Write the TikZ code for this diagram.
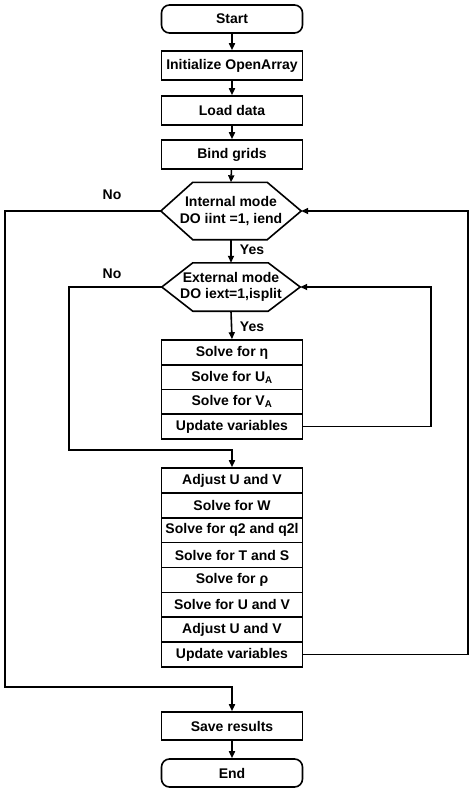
\documentclass[tikz,border=0pt]{standalone}
\usepackage{fontspec}
\setmainfont{Liberation Sans}
\usetikzlibrary{arrows.meta}
\begin{document}
\begin{tikzpicture}[x=1pt,y=-1pt,
  every node/.style={font=\fontsize{14}{16.5}\selectfont\bfseries, inner sep=0pt},
  line/.style={line width=1.6pt},
  arr/.style={line width=1.6pt,-{Triangle[length=7pt,width=6pt]}},
  term/.style={draw, line width=1.6pt, rounded corners=8pt, minimum width=141pt, minimum height=28pt},
  proc/.style={draw, line width=1.6pt, minimum width=141pt, minimum height=29pt},
  row/.style={draw, line width=1.6pt, minimum width=141pt, minimum height=24.8pt},
  hexbox/.style={minimum width=140pt, align=center}
]
\useasboundingbox (0,0) rectangle (474,793);
\fill[white] (0,0) rectangle (474,793);

\node[term] (start) at (232,19) {Start};
\node[proc] (init) at (232,65.5) {Initialize OpenArray};
\node[proc] (load) at (232,110.5) {Load data};
\node[proc] (bind) at (232,154.5) {Bind grids};

\node[hexbox, minimum height=57pt] (int) at (231,211) {Internal mode\\DO iint =1, iend};
\draw[line, line join=miter] (int.west) -- ([xshift=32pt]int.north west) -- ([xshift=-34pt]int.north east) -- (int.east) -- ([xshift=-34pt]int.south east) -- ([xshift=32pt]int.south west) -- cycle;

\node[hexbox, minimum height=48pt, minimum width=138pt] (ext) at (231,287) {External mode\\DO iext=1,isplit};
\draw[line, line join=miter] (ext.west) -- ([xshift=31pt]ext.north west) -- ([xshift=-32pt]ext.north east) -- (ext.east) -- ([xshift=-32pt]ext.south east) -- ([xshift=31pt]ext.south west) -- cycle;

\node[row] (a1) at (232,352.4) {Solve for η};
\node[row] (a2) at (232,377.1) {Solve for U\textsubscript{A}};
\node[row] (a3) at (232,401.8) {Solve for V\textsubscript{A}};
\node[row] (a4) at (232,426.5) {Update variables};

\node[row] (b1) at (232,480.4) {Adjust U and V};
\node[row] (b2) at (232,505.3) {Solve for W};
\node[row] (b3) at (232,530.2) {Solve for q2 and q2l};
\node[row] (b4) at (232,555.0) {Solve for T and S};
\node[row] (b5) at (232,579.9) {Solve for ρ};
\node[row] (b6) at (232,604.8) {Solve for U and V};
\node[row] (b7) at (232,629.7) {Adjust U and V};
\node[row] (b8) at (232,654.6) {Update variables};

\node[proc, minimum height=28pt] (save) at (232,726) {Save results};
\node[term] (end) at (232,773) {End};

\node (no1) at (112,195) {No};
\node (yes1) at (252,250) {Yes};
\node (no2) at (112,274) {No};
\node (yes2) at (252,327) {Yes};

\draw[arr] (start) -- (init);
\draw[arr] (init) -- (load);
\draw[arr] (load) -- (bind);
\draw[arr] (bind) -- (int.north);
\draw[arr] (int.south) -- (ext.north);
\draw[arr] (ext.south) -- (a1.north);
\draw[arr] (save) -- (end);

\draw[arr] (int.west) -- (5,211) -- (5,687) -- (232,687) -- (save.north);
\draw[arr] (b8.east) -- (468,654.6) -- (468,211) -- (int.east);
\draw[arr] (ext.west) -- (69,287) -- (69,450) -- (232,450) -- (b1.north);
\draw[arr] (a4.east) -- (431,426.5) -- (431,287) -- (ext.east);
\end{tikzpicture}
\end{document}
